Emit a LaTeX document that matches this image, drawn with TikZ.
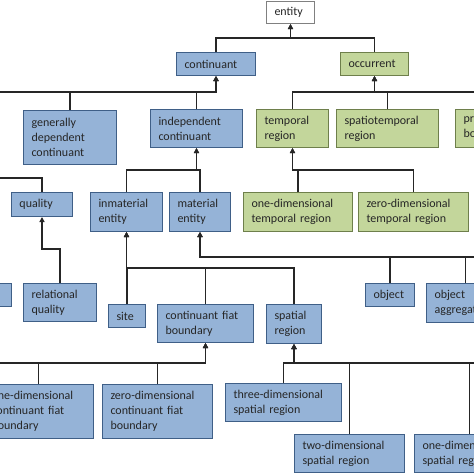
\documentclass[tikz,border=0pt]{standalone}
\usepackage{fontspec}
\setmainfont{Carlito}
\usetikzlibrary{arrows.meta}
\definecolor{bfill}{HTML}{95B3D7}
\definecolor{bline}{HTML}{3F5F87}
\definecolor{gfill}{HTML}{C3D69B}
\definecolor{gline}{HTML}{6E7F4B}
\begin{document}
\begin{tikzpicture}[x=1pt, y=-1pt,
  box/.style={anchor=north west, align=left, inner xsep=8pt, inner ysep=0pt, line width=1pt, font=\fontsize{12}{15}\selectfont, text=black!85},
  blu/.style={box, draw=bline, fill=bfill},
  grn/.style={box, draw=gline, fill=gfill},
  wht/.style={box, draw=black!50, fill=white},
  link/.style={draw=black!85, line width=1.3pt, -{Triangle[length=5pt,width=5pt]}},
  bus/.style={draw=black!85, line width=1.3pt}]
\useasboundingbox (0,0) rectangle (474,474);
\clip (0,0) rectangle (474,474);
% top levels
\node[wht, text width=32pt, minimum height=22pt] (entity) at (266,1) {entity};
\node[blu, text width=63pt, minimum height=23pt] (cont) at (176,52) {continuant};
\node[grn, text width=52pt, minimum height=23pt] (occ) at (340,52) {occurrent};
\node[blu, text width=77pt, minimum height=54pt] (gdc) at (23,110) {generally\\dependent\\continuant};
\node[blu, text width=76pt, minimum height=38pt] (indep) at (150,109) {independent\\continuant};
\node[grn, text width=56pt, minimum height=38pt] (treg) at (256,109) {temporal\\region};
\node[grn, text width=86pt, minimum height=38pt] (streg) at (336,109) {spatiotemporal\\region};
\node[grn, text width=56pt, minimum height=38pt] (pbound) at (455,109) {process\\boundary};
% third level
\node[blu, text width=45pt, minimum height=24pt] (qual) at (11,192) {quality};
\node[blu, text width=56pt, minimum height=39pt] (inmat) at (90,192) {inmaterial\\entity};
\node[blu, text width=45pt, minimum height=39pt] (mat) at (169,192) {material\\entity};
\node[grn, text width=93pt, minimum height=39pt] (onetreg) at (243,192) {one-dimensional\\temporal region};
\node[grn, text width=94pt, minimum height=39pt] (zerotreg) at (358,192) {zero-dimensional\\temporal region};
% fourth level
\node[blu, text width=45pt, minimum height=23pt] (lbox) at (-50,283) {};
\node[blu, text width=57pt, minimum height=38pt] (relqual) at (23,283) {relational\\quality};
\node[blu, text width=21pt, minimum height=23pt] (site) at (108,304) {site};
\node[blu, text width=80pt, minimum height=38pt] (cfb) at (157,304) {continuant fiat\\boundary};
\node[blu, text width=39pt, minimum height=39pt] (sreg) at (266,304) {spatial\\region};
\node[blu, text width=33pt, minimum height=23pt] (obj) at (365,283) {object};
\node[blu, text width=62pt, minimum height=39pt] (objagg) at (426,283) {object\\aggregate};
% bottom
\node[blu, text width=94pt, minimum height=54pt] (onecfb) at (-17,384) {one-dimensional\\continuant fiat\\boundary};
\node[blu, text width=94pt, minimum height=54pt] (zerocfb) at (102,384) {zero-dimensional\\continuant fiat\\boundary};
\node[blu, text width=100pt, minimum height=38pt] (threesreg) at (225,383) {three-dimensional\\spatial region};
\node[blu, text width=94pt, minimum height=38pt] (twosreg) at (294,434) {two-dimensional\\spatial region};
\node[blu, text width=94pt, minimum height=38pt] (onesreg) at (414,434) {one-dimensional\\spatial region};
% free ends off the page
\coordinate (contfree) at (-20,92);
\coordinate (qualfree) at (-20,178);
\coordinate (matfree) at (500,257);
\coordinate (cfbfree) at (-30,363);
\coordinate (sregfree) at (500,363);
% connectors
\draw[link] (cont.north) -- (cont.north |- 0,38) -| (entity.south);
\draw[link] (occ.north) -- (occ.north |- 0,38) -| (entity.south);
\draw[link] (contfree) -| (cont.south);
\draw[link] (gdc.north) -- (gdc.north |- 0,92) -| (cont.south);
\draw[link] (indep.north) -- (indep.north |- 0,92) -| (cont.south);
\draw[link] (treg.north) -- (treg.north |- 0,92) -| (occ.south);
\draw[link] (streg.north) -- (streg.north |- 0,92) -| (occ.south);
\draw[link] (pbound.north) -- (pbound.north |- 0,92) -| (occ.south);
\draw[link] (inmat.north) -- (inmat.north |- 0,170) -| (indep.south);
\draw[link] (mat.north) -- (mat.north |- 0,170) -| (indep.south);
\draw[link] (onetreg.north) -- (onetreg.north |- 0,170) -| (treg.south);
\draw[link] (zerotreg.north) -- (zerotreg.north |- 0,170) -| (treg.south);
\draw[bus] (qual.north) |- (qualfree);
\draw[link] (relqual.north) -- (relqual.north |- 0,249) -| (qual.south);
\draw[link] (site.north) -- (site.north |- 0,268) -| (inmat.south);
\draw[link] (cfb.north) -- (cfb.north |- 0,268) -| (inmat.south);
\draw[link] (sreg.north) -- (sreg.north |- 0,268) -| (inmat.south);
\draw[link] (obj.north) -- (obj.north |- 0,257) -| (mat.south);
\draw[link] (objagg.north) -- (objagg.north |- 0,257) -| (mat.south);
\draw[link] (matfree) -| (mat.south);
\draw[link] (cfbfree) -| (cfb.south);
\draw[link] (onecfb.north) -- (onecfb.north |- 0,363) -| (cfb.south);
\draw[link] (zerocfb.north) -- (zerocfb.north |- 0,363) -| (cfb.south);
\draw[link] (threesreg.north) -- (threesreg.north |- 0,363) -| (sreg.south);
\draw[link] (twosreg.north) -- (twosreg.north |- 0,363) -| (sreg.south);
\draw[link] (onesreg.north) -- (onesreg.north |- 0,363) -| (sreg.south);
\draw[link] (sregfree) -| (sreg.south);
\end{tikzpicture}
\end{document}
